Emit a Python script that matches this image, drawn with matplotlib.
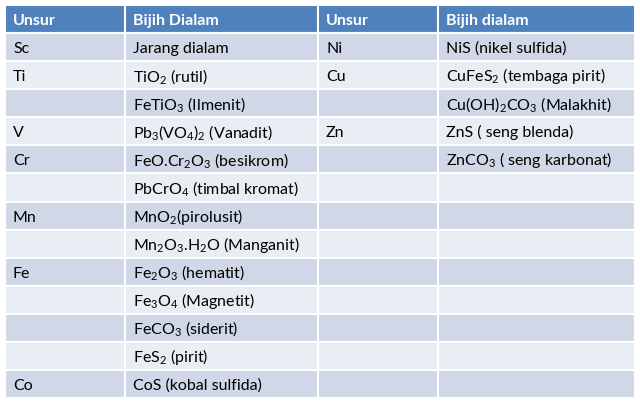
import matplotlib
matplotlib.use("Agg")
import matplotlib.pyplot as plt
from matplotlib.patches import Rectangle

plt.rcParams['font.family'] = ['Lato', 'DejaVu Sans']
plt.rcParams['mathtext.fontset'] = 'custom'
plt.rcParams['mathtext.rm'] = 'Lato'
plt.rcParams['mathtext.it'] = 'Lato'

headers = ["Unsur", "Bijih Dialam", "Unsur", "Bijih dialam"]
col1 = ["Sc", "Ti", "", "V", "Cr", "", "Mn", "", "Fe", "", "", "", "Co"]
col2 = ["Jarang dialam", r"TiO$_2$ (rutil)", r"FeTiO$_3$ (Ilmenit)",
        r"Pb$_3$(VO$_4$)$_2$ (Vanadit)", r"FeO.Cr$_2$O$_3$ (besikrom)",
        r"PbCrO$_4$ (timbal kromat)", r"MnO$_2$(pirolusit)",
        r"Mn$_2$O$_3$.H$_2$O (Manganit)", r"Fe$_2$O$_3$ (hematit)",
        r"Fe$_3$O$_4$ (Magnetit)", r"FeCO$_3$ (siderit)", r"FeS$_2$ (pirit)",
        "CoS (kobal sulfida)"]
col3 = ["Ni", "Cu", "", "Zn", "", "", "", "", "", "", "", "", ""]
col4 = ["NiS (nikel sulfida)", r"CuFeS$_2$ (tembaga pirit)",
        r"Cu(OH)$_2$CO$_3$ (Malakhit)", "ZnS ( seng blenda)",
        r"ZnCO$_3$ ( seng karbonat)", "", "", "", "", "", "", "", ""]

xedges = [5, 125, 318, 438, 635]
top, bottom = 5, 398
nrows = len(col1) + 1
rh = (bottom - top) / nrows

fig = plt.figure(figsize=(6.4, 4.05), dpi=100)
ax = fig.add_axes([0, 0, 1, 1])
ax.set_xlim(0, 640)
ax.set_ylim(405, 0)
ax.axis('off')

cols = [col1, col2, col3, col4]
for r in range(nrows):
    y0 = top + r * rh
    if r == 0:
        fc = '#4F81BD'
    else:
        fc = '#D0D8E8' if r % 2 == 1 else '#E9EDF4'
    for c in range(4):
        x0 = xedges[c]
        ax.add_patch(Rectangle((x0, y0), xedges[c + 1] - x0, rh,
                               facecolor=fc, edgecolor='white', linewidth=1.5))
        if r == 0:
            ax.text(x0 + 8, y0 + rh / 2 + 6, headers[c], color='white',
                    fontsize=11.5, fontweight='bold', va='baseline', ha='left')
        else:
            ax.text(x0 + 8, y0 + rh / 2 + 6, cols[c][r - 1], color='black',
                    fontsize=11.5, va='baseline', ha='left')

fig.savefig("out.png", dpi=100, facecolor='white')
